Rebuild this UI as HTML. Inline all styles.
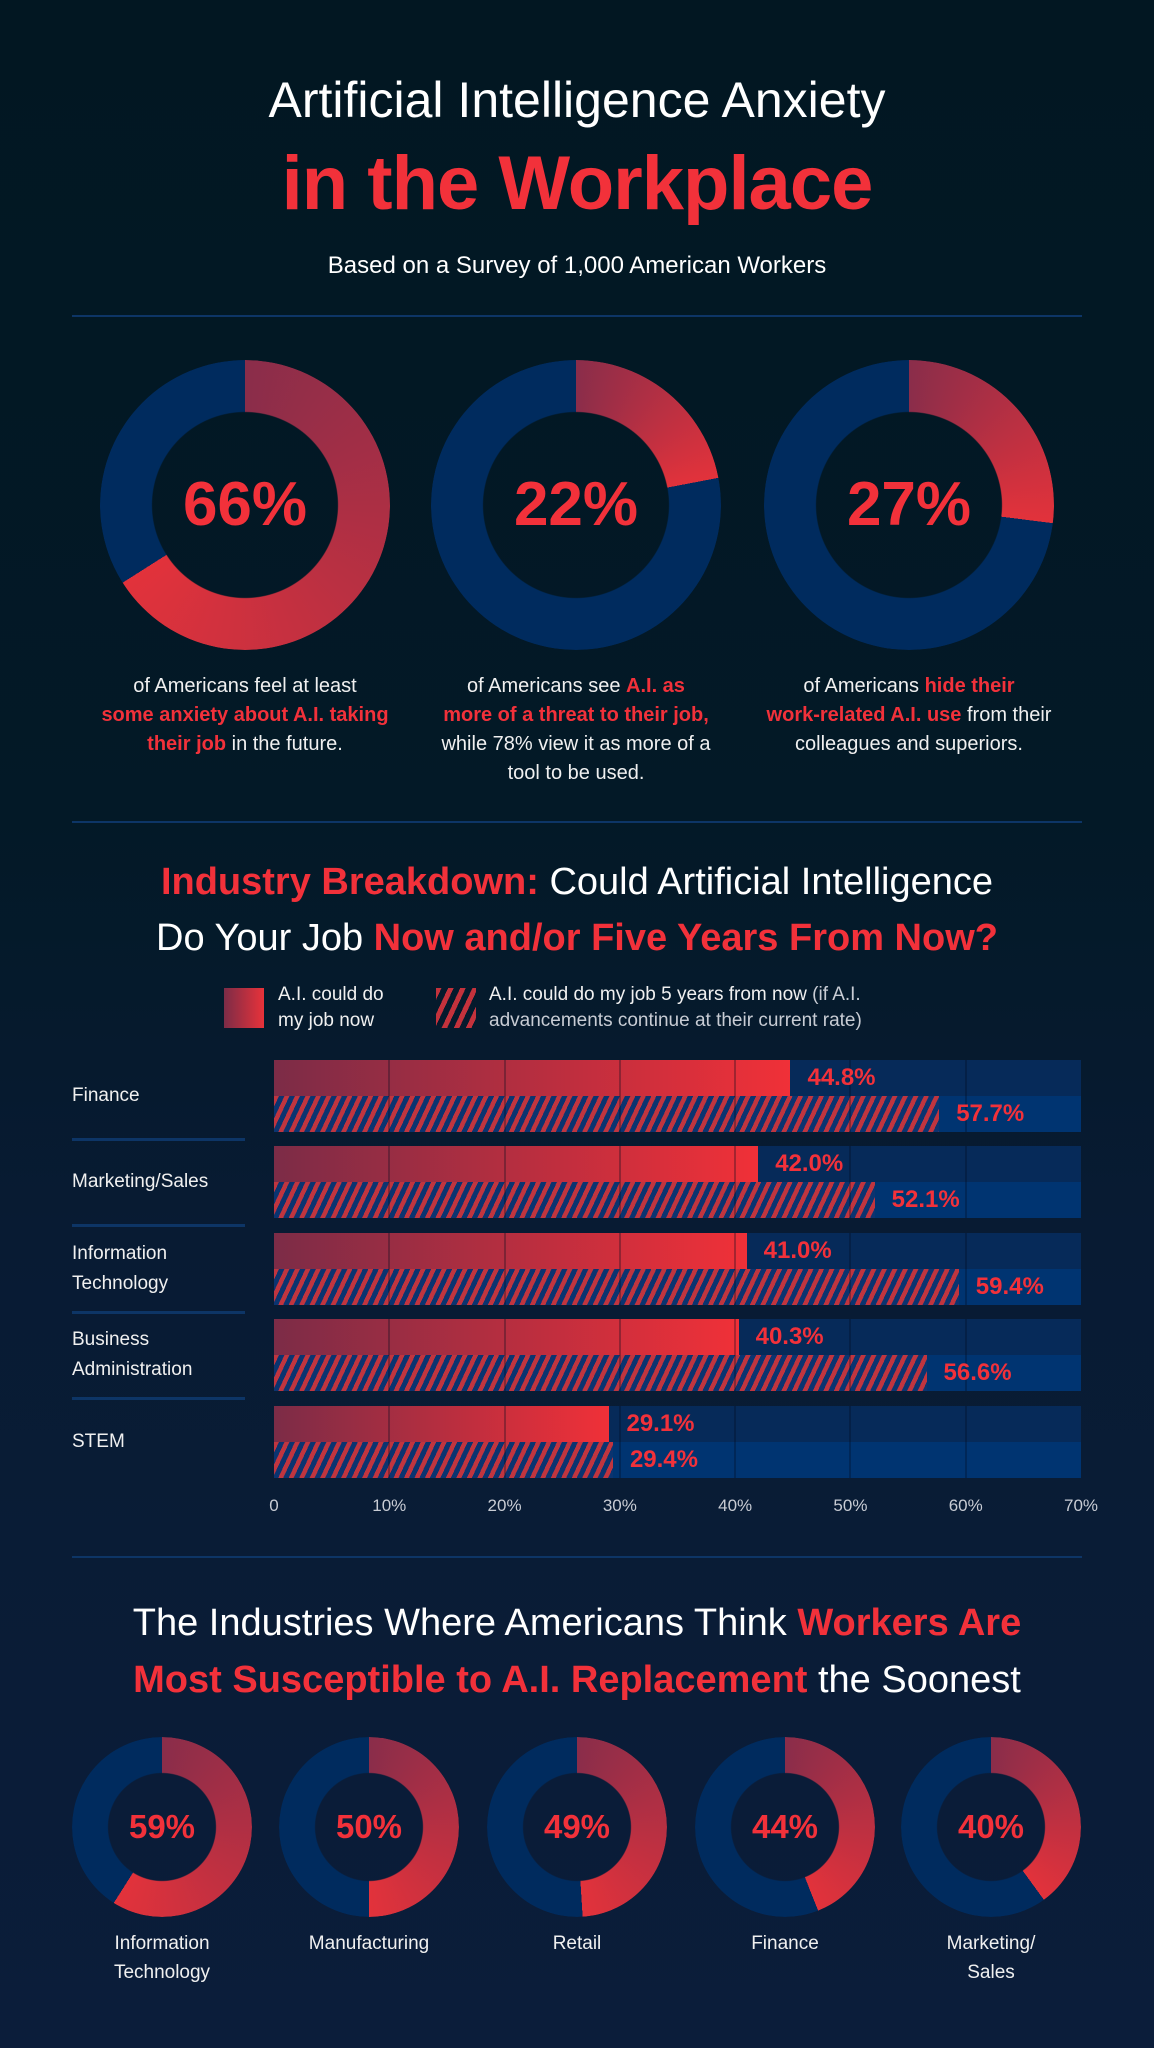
<!DOCTYPE html>
<html><head><meta charset="utf-8">
<style>
*{margin:0;padding:0;box-sizing:border-box}
body{width:1154px;height:2048px;position:relative;overflow:hidden;font-family:"Liberation Sans",sans-serif;
background:linear-gradient(180deg,#021722 0%,#031927 40%,#081b33 60%,#0b1d3a 100%);color:#fff}
.a{position:absolute}
.c{text-align:center;white-space:nowrap}
.r{color:#f2313a;font-weight:bold}
.sep{position:absolute;left:72px;width:1010px;height:2px;background:#0d3566}
.donut{position:absolute;border-radius:50%}
.pct{position:absolute;color:#f2313a;font-weight:bold;text-align:center;white-space:nowrap}
.desc{position:absolute;width:360px;text-align:center;font-size:20px;line-height:29px;color:#f0f0f0;white-space:nowrap}
.lab{position:absolute;left:72px;font-size:19px;line-height:30px;color:#f0f0f0}
.ls{position:absolute;left:72px;width:173px;height:3px;background:#0d3566}
.tick{position:absolute;top:1496px;width:60px;margin-left:-30px;text-align:center;font-size:17px;color:#c8ccd4}
.val{position:absolute;color:#f2313a;font-weight:bold;font-size:24px;line-height:36px}
</style></head><body>

<div class="a c" style="left:0;width:1154px;top:70px;font-size:50px;line-height:60px">Artificial Intelligence Anxiety</div>
<div class="a c r" style="left:0;width:1154px;top:136px;font-size:76px;line-height:96px;letter-spacing:-1px">in the Workplace</div>
<div class="a c" style="left:0;width:1154px;top:250px;font-size:24px;line-height:32px">Based on a Survey of 1,000 American Workers</div>
<div class="sep" style="top:315px"></div>

<div id="big"></div>

<div class="desc" style="left:65px;top:672px">of Americans feel at least<br><span class="r">some anxiety about A.I. taking</span><br><span class="r">their job</span> in the future.</div>
<div class="desc" style="left:396px;top:672px">of Americans see <span class="r">A.I. as</span><br><span class="r">more of a threat to their job,</span><br>while 78% view it as more of a<br>tool to be used.</div>
<div class="desc" style="left:729px;top:672px">of Americans <span class="r">hide their</span><br><span class="r">work-related A.I. use</span> from their<br>colleagues and superiors.</div>

<div class="sep" style="top:821px"></div>
<div class="a c" style="left:0;width:1154px;top:857px;font-size:38px;line-height:50px"><span class="r">Industry Breakdown:</span> Could Artificial Intelligence</div>
<div class="a c" style="left:0;width:1154px;top:913px;font-size:38px;line-height:50px">Do Your Job <span class="r">Now and/or Five Years From Now?</span></div>

<div class="a" style="left:224px;top:988px;width:40px;height:40px;background:linear-gradient(90deg,#7c2c47,#e8323a)"></div>
<div class="a" style="left:278px;top:982px;font-size:19px;line-height:26px;color:#f0f0f0">A.I. could do<br>my job now</div>
<div class="a" style="left:436px;top:988px;width:40px;height:40px;background:repeating-linear-gradient(115deg,#c4323c 0 5px,transparent 5px 11px)"></div>
<div class="a" style="left:489px;top:982px;font-size:19px;line-height:26px;color:#f0f0f0">A.I. could do my job 5 years from now <span style="color:#c8ccd4">(if A.I.<br>advancements continue at their current rate)</span></div>

<div id="bars"></div>

<div class="sep" style="top:1556px"></div>
<div class="a c" style="left:0;width:1154px;top:1598px;font-size:38px;line-height:50px">The Industries Where Americans Think <span class="r">Workers Are</span></div>
<div class="a c" style="left:0;width:1154px;top:1655px;font-size:38px;line-height:50px"><span class="r">Most Susceptible to A.I. Replacement</span> the Soonest</div>

<div id="small"></div>

<script>
function donut(cx,cy,ro,ri,p,fs,parent){
  var d=document.createElement('div');d.className='donut';
  var deg=p*3.6;
  d.style.cssText='left:'+(cx-ro)+'px;top:'+(cy-ro)+'px;width:'+(2*ro)+'px;height:'+(2*ro)+'px;'+
  'background:conic-gradient(#8a2d4a 0deg,#e2323b '+deg+'deg,#002b5e '+deg+'deg 360deg);'+
  '-webkit-mask:radial-gradient(circle,transparent '+(ri-0.5)+'px,#000 '+(ri+0.5)+'px);mask:radial-gradient(circle,transparent '+(ri-0.5)+'px,#000 '+(ri+0.5)+'px);';
  parent.appendChild(d);
  var t=document.createElement('div');t.className='pct';
  t.style.cssText='left:'+(cx-100)+'px;width:200px;top:'+(cy-fs*0.6)+'px;font-size:'+fs+'px;line-height:'+(fs*1.2)+'px';
  t.textContent=p+'%';parent.appendChild(t);
}
var big=document.getElementById('big');
[[245,66],[576,22],[909,27]].forEach(function(a){donut(a[0],505,145,93,a[1],62,big);});
var sm=document.getElementById('small');
var sl=[[162,59,'Information<br>Technology'],[369,50,'Manufacturing'],[577,49,'Retail'],[785,44,'Finance'],[991,40,'Marketing/<br>Sales']];
sl.forEach(function(a){donut(a[0],1827,90,54,a[1],33,sm);
 var l=document.createElement('div');l.className='a c';
 l.style.cssText='left:'+(a[0]-100)+'px;width:200px;top:1929px;font-size:19px;line-height:29px;color:#f0f0f0';
 l.innerHTML=a[2];sm.appendChild(l);});

var bars=document.getElementById('bars');
var x0=274,W=807,u=W/70;
var data=[['Finance',44.8,57.7],['Marketing/Sales',42.0,52.1],['Information<br>Technology',41.0,59.4],['Business<br>Administration',40.3,56.6],['STEM',29.1,29.4]];
var h='';
data.forEach(function(d,i){
 var y=1060+i*86.4;
 h+='<div class="a" style="left:'+x0+'px;top:'+y+'px;width:'+W+'px;height:36px;background:#062a59"></div>';
 h+='<div class="a" style="left:'+x0+'px;top:'+(y+36)+'px;width:'+W+'px;height:36px;background:#003471"></div>';
 var w1=d[1]*u,w2=d[2]*u;
 h+='<div class="a" style="left:'+x0+'px;top:'+y+'px;width:'+w1+'px;height:36px;background:linear-gradient(90deg,#7c2c47,#f03038)"></div>';
 h+='<div class="a" style="left:'+x0+'px;top:'+(y+36)+'px;width:'+w2+'px;height:36px;background:repeating-linear-gradient(115deg,#c0353f 0 4.5px,#0b3470 4.5px 9.5px)"></div>';
 for(var k=1;k<7;k++){h+='<div class="a" style="left:'+(x0+k*u*10-1)+'px;top:'+y+'px;width:2px;height:72px;background:rgba(0,10,30,0.3)"></div>';}
 h+='<div class="val" style="left:'+(x0+w1+17)+'px;top:'+y+'px">'+d[1].toFixed(1)+'%</div>';
 h+='<div class="val" style="left:'+(x0+w2+17)+'px;top:'+(y+36)+'px">'+d[2].toFixed(1)+'%</div>';
 var two=d[0].indexOf('<br>')>0;
 h+='<div class="lab" style="top:'+(y+36-(two?30:15))+'px">'+d[0]+'</div>';
 if(i<4)h+='<div class="ls" style="top:'+(y+78)+'px"></div>';
});
for(var k=0;k<=7;k++){h+='<div class="tick" style="left:'+(x0+k*u*10)+'px">'+(k==0?'0':k*10+'%')+'</div>';}
bars.innerHTML=h;
</script>
</body></html>
